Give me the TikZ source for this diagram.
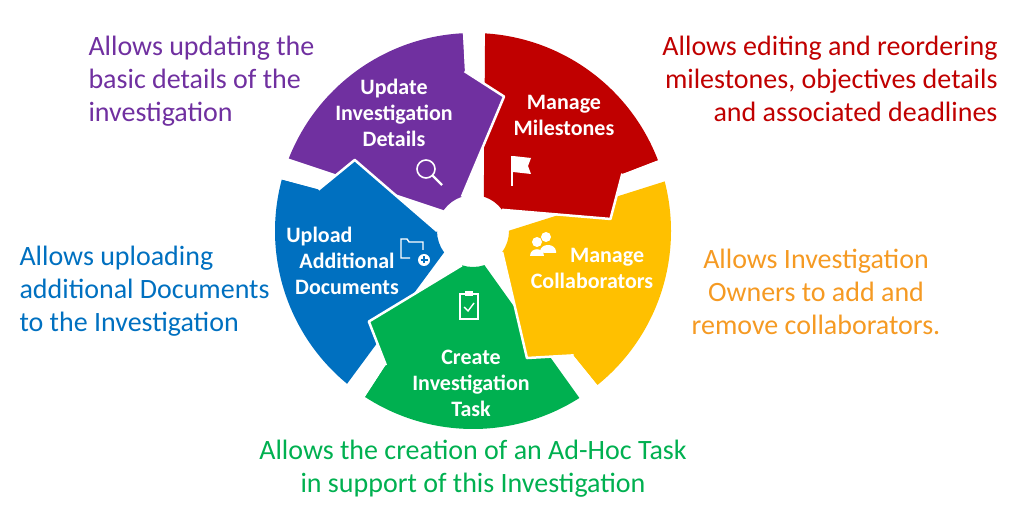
\documentclass[tikz,border=0pt]{standalone}
\usepackage{fontspec}
\setmainfont{Carlito}
\definecolor{cpur}{HTML}{7030A0}
\definecolor{cred}{HTML}{C00000}
\definecolor{cyel}{HTML}{FFC000}
\definecolor{corg}{HTML}{F59A23}
\definecolor{cgrn}{HTML}{00B050}
\definecolor{cblu}{HTML}{0070C0}
\newcommand{\segbody}[2]{%
 \fill[#2] (86.5+#1:198) arc[start angle=86.5+#1,end angle=21+#1,radius=198] -- (21+#1:160) -- (5+#1:138) -- (36+#1:36) arc[start angle=36+#1,end angle=72.5+#1,radius=36] -- cycle;}
\newcommand{\segtip}[2]{%
 \fill[#2] (21+#1:198) -- (21+#1:160) -- (5+#1:138) -- (36+#1:36) -- (50+#1:100) -- cycle;
 \draw[white,line width=2.5pt,line join=round] (21+#1:160) -- (5+#1:138) -- (36+#1:36);}
\tikzset{seglab/.style={white,font=\bfseries\fontsize{22}{26}\selectfont,align=center},
 outtxt/.style={font=\fontsize{28}{33}\selectfont},
 icon/.style={white,line width=1.6pt}}
\begin{document}
\begin{tikzpicture}[x=1pt,y=1pt]
\useasboundingbox (0,0) rectangle (1024,519);
\begin{scope}[shift={(473,288)}]
\segbody{72}{cpur}
\segbody{0}{cred}
\segbody{-72}{cyel}
\segbody{-144}{cgrn}
\segbody{-216}{cblu}
\segtip{72}{cpur}
\segtip{0}{cred}
\segtip{-72}{cyel}
\segtip{-144}{cgrn}
\segtip{-216}{cblu}
\end{scope}
\node[seglab] (l1) at (394,406) {Update\\Investigation\\Details};
\node[seglab] (l2) at (564,404) {Manage\\Milestones};
\node[seglab] (l3) at (592,251) {\phantom{Ma}Manage\\Collaborators};
\node[seglab] (l4) at (471,136) {Create\\Investigation\\Task};
\node[seglab] (l5) at (347,258) {Upload\phantom{Additi}\\Additional\\Documents};
% magnifier
\draw[icon] (426,350) circle (9);
\draw[icon,line width=2.2pt] (432.5,343.5) -- (442,334);
% flag
\draw[icon] (512,333) -- (512,363);
\fill[white] (513,363) -- (531,361) -- (528,353) -- (531,345) -- (513,347) -- cycle;
% people
\fill[white] (546,282) circle (5); \fill[white] (537,277) circle (5);
\fill[white] (530,263) .. controls (530,272) and (544,272) .. (544,263) -- cycle;
\fill[white] (540,268) .. controls (541,276) and (555,276) .. (556,268) -- (556,266) -- (544,266) -- cycle;
% folder
\draw[icon,line width=1.4pt] (410,261) -- (401,261) -- (401,280) -- (407,280) -- (409,277) -- (423,277) -- (423,269);
\fill[white] (424,259) circle (6);
\draw[cblu,line width=1.3pt] (420.5,259) -- (427.5,259) (424,255.5) -- (424,262.5);
% clipboard
\draw[icon,line width=1.4pt] (460,200) rectangle (478,225);
\fill[white] (465,223) rectangle (473,228);
\draw[icon,line width=1.4pt] (464,212) -- (468,208) -- (474,216);
% outer texts
\node[outtxt,cpur,align=left,anchor=north west] (t1) at (85,486) {Allows updating the\\basic details of the\\investigation};
\node[outtxt,cred,align=right,anchor=north east] (t2) at (1001,486) {Allows editing and reordering\\milestones, objectives details\\and associated deadlines};
\node[outtxt,cpur!0!corg,align=center] (t3) at (816,227) {Allows Investigation\\Owners to add and\\remove collaborators.};
\node[outtxt,cblu,align=left,anchor=north west] (t5) at (16,276) {Allows uploading\\additional Documents\\to the Investigation};
\node[outtxt,cgrn,align=center] (t4) at (473,50) {Allows the creation of an Ad-Hoc Task\\in support of this Investigation};
\end{tikzpicture}
\end{document}
